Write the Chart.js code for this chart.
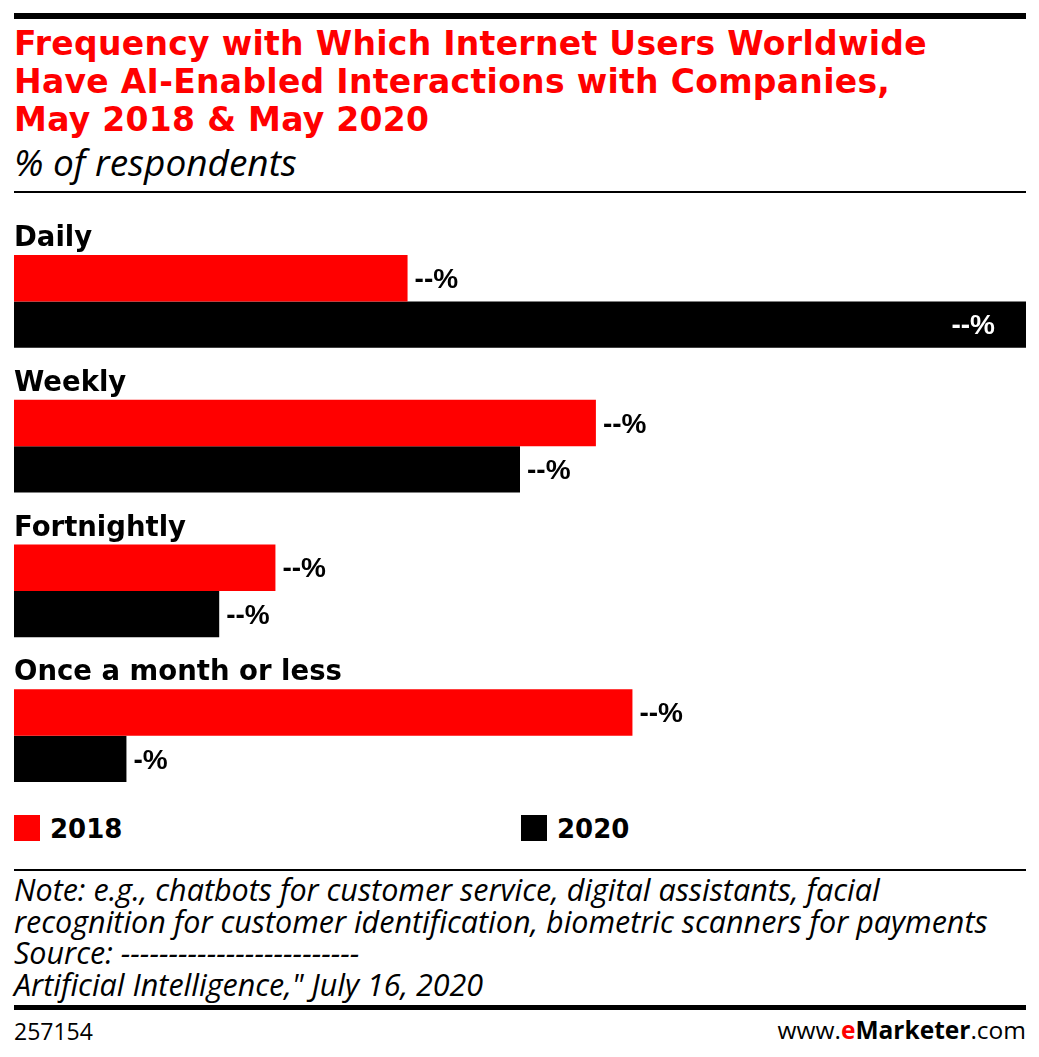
<!DOCTYPE html>
<html>
<head>
<meta charset="utf-8">
<script src="https://cdn.jsdelivr.net/npm/chart.js@4/dist/chart.umd.min.js"></script>
<style>
  html, body { margin: 0; padding: 0; background: #fff; }
  body { width: 1039px; height: 1057px; position: relative; overflow: hidden; font-family: "Liberation Sans", Arial, sans-serif; }
  .rule { position: absolute; left: 14px; width: 1012px; background: #000; }
  #title { position: absolute; left: 14px; top: 25px; color: #ff0000; font-weight: bold; font-size: 33px; line-height: 38px; letter-spacing: 0.3px; font-family: "DejaVu Sans", sans-serif; }
  #subtitle { position: absolute; left: 14px; top: 141px; font-style: italic; font-size: 37px; line-height: 42px; color: #000; font-family: "Open Sans", sans-serif; }
  #chartBox { position: absolute; left: 14px; top: 200px; width: 1012px; height: 608px; }
  .legend { position: absolute; top: 814px; font-weight: bold; font-size: 26px; line-height: 30px; font-family: "DejaVu Sans", sans-serif; }
  .legend span.sw { display: inline-block; width: 26px; height: 26px; vertical-align: -3px; margin-right: 10px; }
  #notes { position: absolute; left: 14px; top: 874px; font-family: "Open Sans", sans-serif; font-style: italic; font-size: 30.5px; line-height: 31.5px; color: #000; }
  #footId { position: absolute; left: 14px; top: 1015px; font-size: 23px; font-family: "Open Sans", sans-serif; }
  #footSite { position: absolute; right: 13px; top: 1013px; font-size: 24.5px; font-family: "Open Sans", sans-serif; }
</style>
</head>
<body>
<div class="rule" style="top:13px;height:6px"></div>
<div id="title">Frequency with Which Internet Users Worldwide<br>Have AI-Enabled Interactions with Companies,<br>May 2018 &amp; May 2020</div>
<div id="subtitle">% of respondents</div>
<div class="rule" style="top:191px;height:2px"></div>
<div id="chartBox"><canvas id="chart"></canvas></div>
<div class="legend" style="left:14px"><span class="sw" style="background:#ff0000"></span>2018</div>
<div class="legend" style="left:521px"><span class="sw" style="background:#000"></span>2020</div>
<div class="rule" style="top:869px;height:2px"></div>
<div id="notes">Note: e.g., chatbots for customer service, digital assistants, facial<br>recognition for customer identification, biometric scanners for payments<br>Source: -------------------------<br>Artificial Intelligence," July 16, 2020</div>
<div class="rule" style="top:1005px;height:5px"></div>
<div id="footId">257154</div>
<div id="footSite">www.<span style="color:#ff0000;font-weight:bold">e</span><b>Marketer</b>.com</div>

<script>
const categories = ['Daily', 'Weekly', 'Fortnightly', 'Once a month or less'];
const seriesNames = ['2018', '2020'];
const values2018 = [14, 20.7, 9.3, 22];
const values2020 = [36, 18, 7.3, 4];
const labels2018 = ['--%', '--%', '--%', '--%'];
const labels2020 = ['--%', '--%', '--%', '-%'];
const xMax = 36;

const valueLabels = [labels2018, labels2020];

// draws category names above each group and the value labels at bar ends
const groupLabels = {
    id: 'groupLabels',
    afterDatasetsDraw(chart) {
        const ctx = chart.ctx;
        ctx.save();
        const first = chart.getDatasetMeta(0);
        ctx.font = 'bold 27.5px "DejaVu Sans", sans-serif';
        ctx.fillStyle = '#000';
        ctx.textAlign = 'left';
        ctx.textBaseline = 'alphabetic';
        first.data.forEach((bar, i) => {
            const top = bar.y - bar.height / 2;
            ctx.fillText(categories[i], chart.chartArea.left, top - 9);
        });
        ctx.font = 'bold 28px "Liberation Sans", Arial, sans-serif';
        ctx.textBaseline = 'middle';
        chart.data.datasets.forEach((ds, d) => {
            const meta = chart.getDatasetMeta(d);
            meta.data.forEach((bar, i) => {
                const txt = valueLabels[d][i];
                const w = ctx.measureText(txt).width;
                if (bar.x + 7 + w > chart.chartArea.right) {
                    ctx.fillStyle = '#fff';
                    ctx.textAlign = 'right';
                    ctx.fillText(txt, bar.x - 31, bar.y + 2);
                } else {
                    ctx.fillStyle = '#000';
                    ctx.textAlign = 'left';
                    ctx.fillText(txt, bar.x + 7, bar.y + 2);
                }
            });
        });
        ctx.restore();
    }
};

new Chart(document.getElementById('chart'), {
    type: 'bar',
    data: {
        labels: categories,
        datasets: [{
            label: seriesNames[0],
            data: values2018,
            backgroundColor: '#ff0000'
        }, {
            label: seriesNames[1],
            data: values2020,
            backgroundColor: '#000000'
        }]
    },
    options: {
        indexAxis: 'y',
        responsive: true,
        maintainAspectRatio: false,
        animation: false,
        categoryPercentage: 0.64,
        barPercentage: 1,
        layout: { padding: { top: 29, bottom: 0, left: 0, right: 0 } },
        scales: {
            x: { display: false, min: 0, max: xMax },
            y: { display: false }
        },
        plugins: {
            legend: { display: false },
            tooltip: { enabled: false }
        }
    },
    plugins: [groupLabels]
});
</script>
</body>
</html>
